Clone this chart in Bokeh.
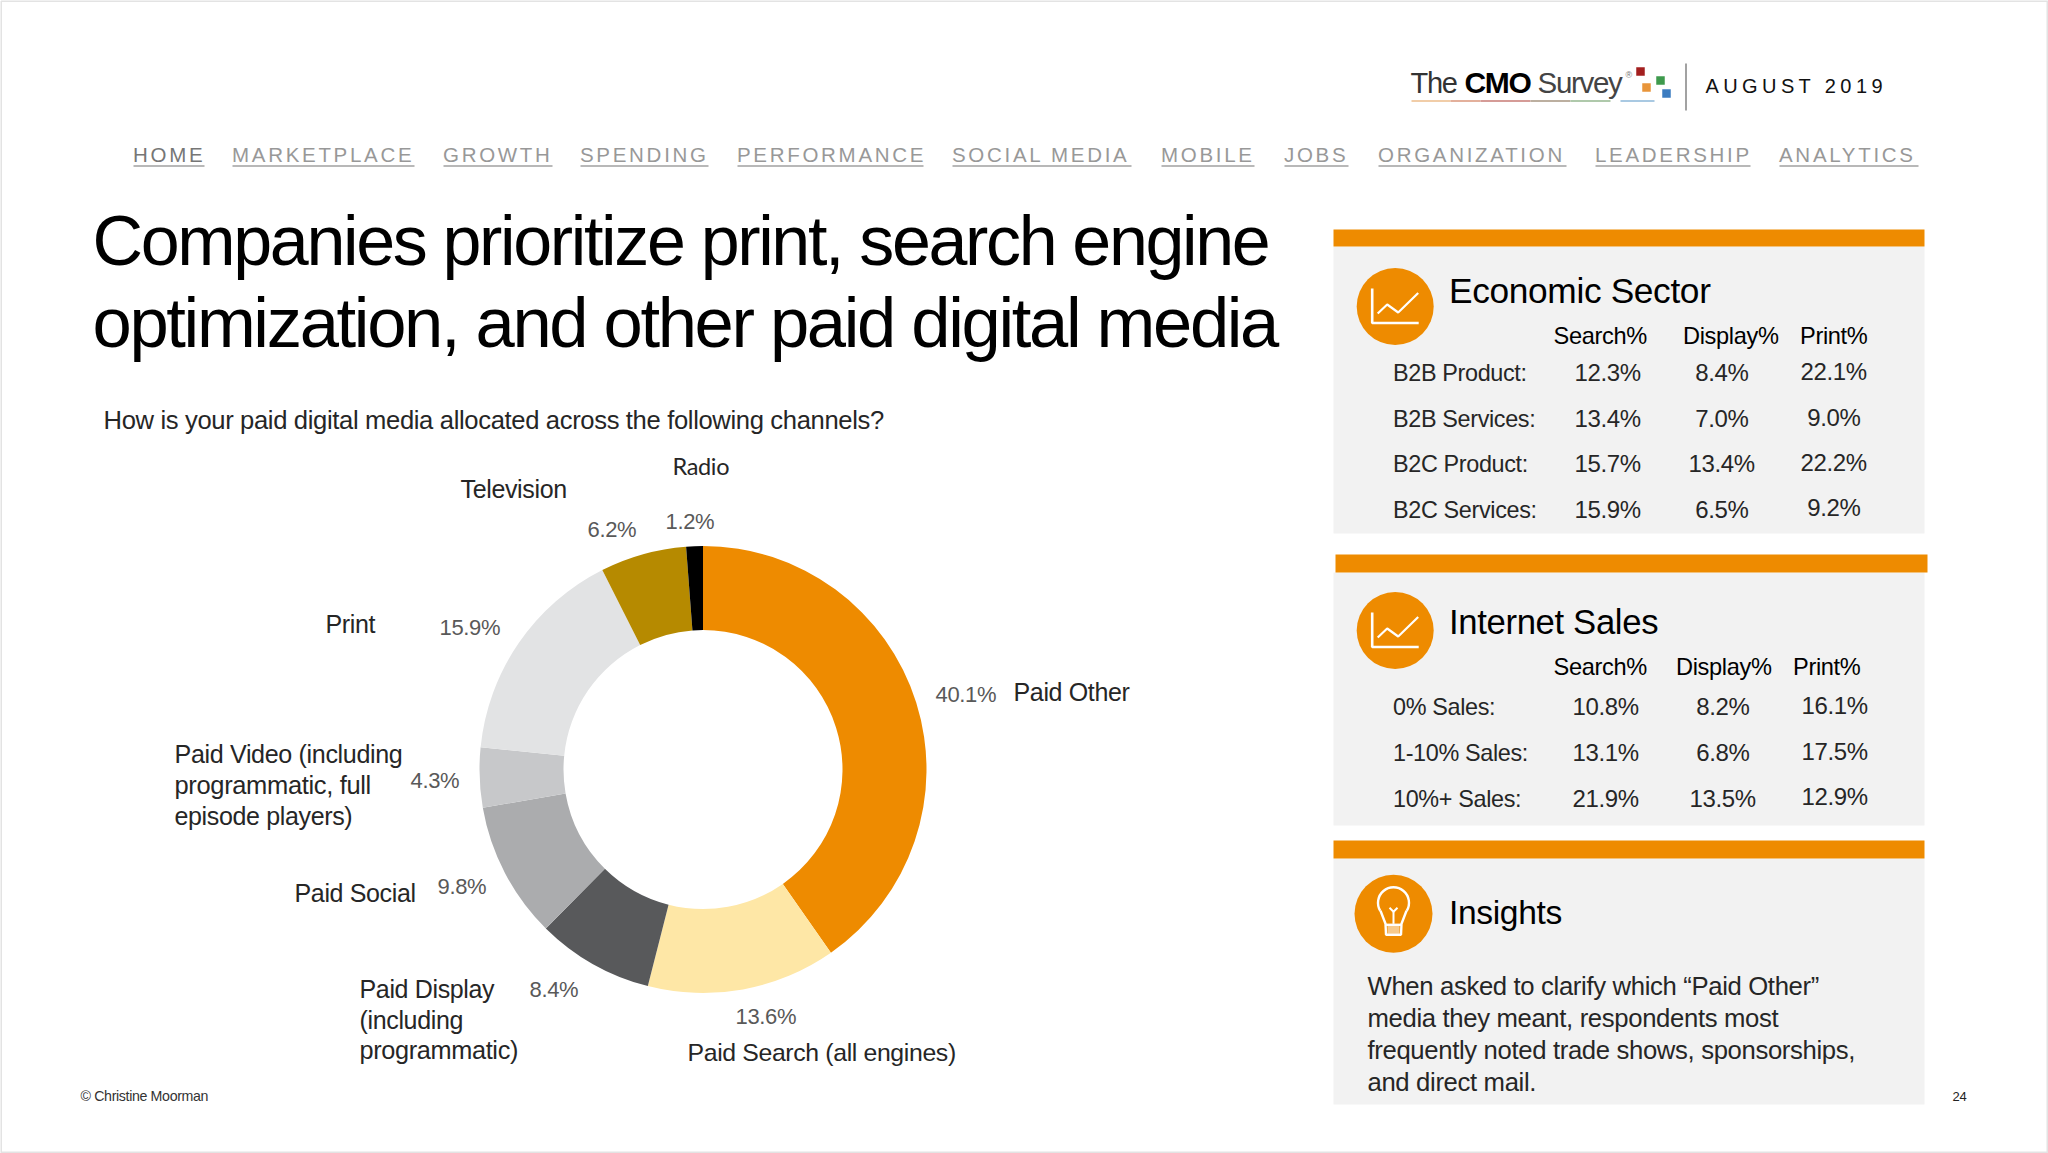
import math
from bokeh.core.properties import value
from bokeh.embed import file_html
from bokeh.layouts import column
from bokeh.models import Range1d
from bokeh.plotting import figure
from bokeh.resources import INLINE

# ---- data ----
slice_names = ["Paid Other", "Paid Search (all engines)", "Paid Display (including programmatic)", "Paid Social",
               "Paid Video (including programmatic, full episode players)", "Print", "Television", "Radio"]
slice_values = [40.1, 13.6, 8.4, 9.8, 4.3, 15.9, 6.2, 1.2]
slice_colors = ["#EE8B00", "#FEE7A6", "#58595B", "#ABACAE", "#C7C8CA", "#E2E3E4", "#B68A00", "#000000"]

nav_items = ["HOME", "MARKETPLACE", "GROWTH", "SPENDING", "PERFORMANCE", "SOCIAL MEDIA", "MOBILE", "JOBS",
             "ORGANIZATION", "LEADERSHIP", "ANALYTICS"]
title_lines = ["Companies prioritize print, search engine", "optimization, and other paid digital media"]
question = "How is your paid digital media allocated across the following channels?"

table_columns = ["Search%", "Display%", "Print%"]
econ_rows = ["B2B Product:", "B2B Services:", "B2C Product:", "B2C Services:"]
econ_search = ["12.3%", "13.4%", "15.7%", "15.9%"]
econ_display = ["8.4%", "7.0%", "13.4%", "6.5%"]
econ_print = ["22.1%", "9.0%", "22.2%", "9.2%"]
net_rows = ["0% Sales:", "1-10% Sales:", "10%+ Sales:"]
net_search = ["10.8%", "13.1%", "21.9%"]
net_display = ["8.2%", "6.8%", "13.5%"]
net_print = ["16.1%", "17.5%", "12.9%"]
insight_lines = ["When asked to clarify which \u201cPaid Other\u201d", "media they meant, respondents most",
                 "frequently noted trade shows, sponsorships,", "and direct mail."]

# ---- layout constants ----
W, H = 2048, 1153
ORANGE = "#EE8B00"
PANEL = "#F2F2F2"
FONT = "Liberation Sans"
BASELINE_SHIFT = 0.36


def canvas(spacing=None, base=False):
    f = figure(width=W, height=H, output_backend="svg", toolbar_location=None,
               x_range=Range1d(0, W), y_range=Range1d(H, 0),
               x_axis_location=None, y_axis_location=None, min_border=0)
    f.grid.visible = False
    f.outline_line_color = None
    f.background_fill_color = "#FFFFFF" if base else None
    f.border_fill_color = "#FFFFFF" if base else None
    st = {}
    if not base:
        st.update({"position": "absolute", "left": "0px", "top": "0px"})
    if spacing is not None:
        st["letter-spacing"] = spacing
    f.styles = st
    return f


def label(f, x, y, s, size, color="#262626", align="left", font=FONT, style="normal"):
    f.text([x], [y - BASELINE_SHIFT * size], text=[s], text_font=value(font), text_font_size=f"{size}px",
           text_color=color, text_align=align, text_baseline="alphabetic", text_font_style=style)


main = canvas("-0.35px", base=True)
head = canvas("-2.35px")
nav = canvas("2.7px")
date = canvas("4.4px")
logo = canvas("-1.3px")

# page border
main.line([0.5, 0.5, W - 1, W - 1, 0.5], [0.5, H - 1, H - 1, 0.5, 0.5], line_color="#E3E3E3", line_width=2)

# ---- donut ----
CX, CY, R_OUT, R_IN = 702.5, 769, 223.5, 139.5
total = sum(slice_values)
acc = 0.0
for v, c in zip(slice_values, slice_colors):
    a0 = math.pi / 2 - acc / total * 2 * math.pi
    acc += v
    a1 = math.pi / 2 - acc / total * 2 * math.pi
    main.annular_wedge([CX], [CY], inner_radius=R_IN, outer_radius=R_OUT, start_angle=a0, end_angle=a1,
                       direction="clock", fill_color=c, line_color=None)

# donut labels
for x, y, s, size in [(1013, 700, "Paid Other", 25), (687, 1060.5, "Paid Search (all engines)", 24.8),
                      (359, 997, "Paid Display", 25), (359, 1028, "(including", 25), (359, 1058.5, "programmatic)", 25.3),
                      (294, 901, "Paid Social", 25), (174, 762.5, "Paid Video (including", 25.1),
                      (174, 793.5, "programmatic, full", 25.5), (174, 824.5, "episode players)", 25),
                      (325, 632, "Print", 25), (460, 497, "Television", 25)]:
    label(main, x, y, s, size)
label(main, 672, 474, "Radio", 23.5, font="Lato")
pcts = [f"{v:.1f}%" for v in slice_values]
for (x, y), s in zip([(935, 702), (735, 1024), (529, 997), (437, 894), (410, 788), (439, 635), (587, 537), (665, 529)], pcts):
    label(main, x, y, s, 22, color="#595959")

# ---- header ----
label(head, 92, 265.5, title_lines[0], 70, color="#000000")
label(head, 92, 347, title_lines[1], 70.6, color="#000000")
label(main, 103, 429, question, 25.6)

nav_x0 = [133, 232, 443, 580, 737, 952, 1161, 1284, 1378, 1595, 1779]
nav_x1 = [204, 414, 552, 708, 923, 1131, 1254, 1348, 1566, 1750, 1918]
for i, (s, a, b) in enumerate(zip(nav_items, nav_x0, nav_x1)):
    label(nav, a - 0.5, 161, s, 20.5, color="#767676" if i == 0 else "#989898")
    main.line([a, b], [165.5, 165.5], line_color="#A0A0A0", line_width=1.6)

# logo
label(logo, 1410, 93, "The", 29, color="#333333")
label(logo, 1464, 93, "CMO", 30, color="#000000", style="bold")
label(logo, 1537, 93, "Survey", 29.5, color="#444444")
label(main, 1625, 78, "\u00ae", 9, color="#777777")
for x, y, c in [(1640, 71, "#A31F1F"), (1660, 80, "#3E9A4D"), (1646, 87, "#E8953A"), (1666, 93, "#3C7CC0")]:
    main.rect([x], [y], width=8.5, height=8.5, fill_color=c, line_color=None)
for x0, x1, c in [(1411, 1450, "#F1CDA8"), (1450, 1480, "#E3B09C"), (1480, 1530, "#D59B97"),
                  (1530, 1570, "#BCAFA0"), (1570, 1610, "#AFC9AB"), (1620, 1654, "#A9C9E2")]:
    main.line([x0, x1], [100.5, 100.5], line_color=c, line_width=2)
main.line([1685.5, 1685.5], [63, 110], line_color="#707070", line_width=1.3)
label(date, 1705, 93, "AUGUST 2019", 20, color="#111111")

# ---- panels ----
for bx0, bx1, by0, by1, py1 in [(1333, 1924, 229, 246, 533), (1335, 1927, 554, 572, 825), (1333, 1924, 840, 858, 1104)]:
    main.quad(left=[1333], right=[1924], top=[by1], bottom=[py1], fill_color=PANEL, line_color=None)
    main.quad(left=[bx0], right=[bx1], top=[by0], bottom=[by1], fill_color=ORANGE, line_color=None)


def chart_icon(cx, cy, r):
    main.circle([cx], [cy], radius=r, fill_color=ORANGE, line_color=None)
    main.line([cx - 23, cx - 23, cx + 23.5], [cy - 18, cy + 16.5, cy + 16.5], line_color="#FFFFFF", line_width=2.6)
    main.line([cx - 17.5, cx - 8, cx + 3, cx + 23], [cy + 7, cy - 2, cy + 6, cy - 13.5], line_color="#FFFFFF", line_width=2.2)


chart_icon(1394.7, 306, 38.5)
chart_icon(1394.7, 630, 38.5)
# bulb icon
bx, by = 1393, 913.3
main.circle([bx], [by], radius=39, fill_color=ORANGE, line_color=None)
main.arc([bx], [by - 11], radius=15.5, start_angle=-0.55, end_angle=math.pi + 0.55, direction="anticlock",
         line_color="#FFFFFF", line_width=2.4)
main.line([bx - 13, bx - 8, bx - 7.5, bx + 7.5, bx + 8, bx + 13], [by - 3, by + 10, by + 21, by + 21, by + 10, by - 3],
          line_color="#FFFFFF", line_width=2.4)
main.line([bx - 8, bx + 8], [by + 11, by + 11], line_color="#FFFFFF", line_width=2.4)
main.quad(left=[bx - 6], right=[bx + 6], top=[by + 12], bottom=[by + 20], fill_color="#FFFFFF", line_color=None, fill_alpha=0.55)
main.line([bx - 4, bx, bx + 4], [by - 6, by - 2, by - 6], line_color="#FFFFFF", line_width=2)
main.line([bx, bx], [by - 2, by + 10], line_color="#FFFFFF", line_width=2)

label(main, 1448.5, 302.5, "Economic Sector", 35.3, color="#000000")
label(main, 1448.5, 633.5, "Internet Sales", 34.7, color="#000000")
label(main, 1448.5, 924, "Insights", 33.6, color="#000000")


def table(rows, search, display, printed, hx, hy, ys, cxs, print_dy):
    for x, s in zip(hx, table_columns):
        label(main, x, hy, s, 23.6, color="#000000")
    for y, r, a, b, c in zip(ys, rows, search, display, printed):
        label(main, 1392.5, y, r, 23.4)
        label(main, cxs[0], y, a, 24, align="center")
        label(main, cxs[1], y, b, 24, align="center")
        label(main, cxs[2], y - print_dy, c, 24, align="center")


table(econ_rows, econ_search, econ_display, econ_print, [1553, 1682.5, 1799.5], 344, [381, 427, 472, 517.5], [1608, 1722, 1834], 1.5)
table(net_rows, net_search, net_display, net_print, [1553, 1675.5, 1792.5], 675, [715, 761, 806.5], [1606, 1723, 1835], 1.5)

for y, s in zip([995, 1027, 1059, 1091], insight_lines):
    label(main, 1367, y, s, 25.7)

label(main, 80, 1101, "\u00a9 Christine Moorman", 14.2, color="#333333")
label(main, 1952, 1101, "24", 13, color="#222222")

root = column(main, head, nav, date, logo, width=W, height=H,
              styles={"position": "absolute", "left": "0px", "top": "0px"})
open("out.html", "w").write(file_html(root, INLINE))
